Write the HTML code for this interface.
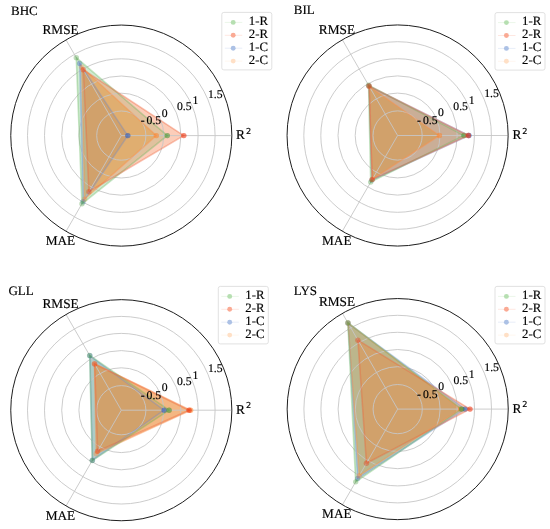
<!DOCTYPE html>
<html><head><meta charset="utf-8"><title>Radar charts</title>
<style>
html,body{margin:0;padding:0;background:#fff;}
svg{display:block;}
text{font-family:"Liberation Serif", "Times New Roman", serif;fill:#000;text-rendering:geometricPrecision;stroke:#000;stroke-width:0.17px;}
.sup{font-family:"DejaVu Sans","Liberation Sans",sans-serif;}
</style></head><body>
<svg width="550" height="529" viewBox="0 0 550 529">
<rect width="550" height="529" fill="#fff"/>
<g>
<polygon points="167.30,135.60 76.30,57.66 81.95,203.76" fill="rgba(137,205,142,0.40)" stroke="none"/>
<polygon points="127.80,135.60 79.65,63.46 83.10,201.76" fill="rgba(91,132,173,0.30)" stroke="none"/>
<polygon points="183.80,135.60 83.30,69.78 88.90,191.72" fill="rgba(247,130,80,0.40)" stroke="none"/>
<polygon points="156.30,135.60 81.80,67.18 84.60,199.17" fill="rgba(224,133,5,0.30)" stroke="none"/>
<g fill="none" stroke="#c6c6c6" stroke-width="0.9">
<circle cx="121.30" cy="135.60" r="24.60"/>
<circle cx="121.30" cy="135.60" r="42.40"/>
<circle cx="121.30" cy="135.60" r="59.60"/>
<circle cx="121.30" cy="135.60" r="76.80"/>
<circle cx="121.30" cy="135.60" r="93.80"/>
<line x1="121.30" y1="135.60" x2="231.85" y2="135.60"/>
<line x1="121.30" y1="135.60" x2="66.03" y2="39.86"/>
<line x1="121.30" y1="135.60" x2="66.02" y2="231.34"/>
</g>
<polygon points="127.80,135.60 79.65,63.46 83.10,201.76" fill="none" stroke="rgba(100,135,210,0.34)" stroke-width="1.6" stroke-linejoin="round"/>
<circle cx="127.80" cy="135.60" r="2.7" fill="rgba(40,90,190,0.35)"/>
<circle cx="79.65" cy="63.46" r="2.7" fill="rgba(40,90,190,0.35)"/>
<circle cx="83.10" cy="201.76" r="2.7" fill="rgba(40,90,190,0.35)"/>
<circle cx="127.80" cy="135.60" r="2.7" fill="rgba(40,90,190,0.35)"/>
<polygon points="156.30,135.60 81.80,67.18 84.60,199.17" fill="none" stroke="rgba(250,145,75,0.45)" stroke-width="1.5" stroke-linejoin="round"/>
<circle cx="156.30" cy="135.60" r="2.7" fill="rgba(255,130,40,0.32)"/>
<circle cx="81.80" cy="67.18" r="2.7" fill="rgba(255,130,40,0.32)"/>
<circle cx="84.60" cy="199.17" r="2.7" fill="rgba(255,130,40,0.32)"/>
<circle cx="156.30" cy="135.60" r="2.7" fill="rgba(255,130,40,0.32)"/>
<polygon points="167.30,135.60 76.30,57.66 81.95,203.76" fill="none" stroke="rgba(97,180,88,0.35)" stroke-width="1.6" stroke-linejoin="round"/>
<circle cx="167.30" cy="135.60" r="2.7" fill="rgba(60,150,50,0.33)"/>
<circle cx="76.30" cy="57.66" r="2.7" fill="rgba(60,150,50,0.33)"/>
<circle cx="81.95" cy="203.76" r="2.7" fill="rgba(60,150,50,0.33)"/>
<circle cx="167.30" cy="135.60" r="2.7" fill="rgba(60,150,50,0.33)"/>
<polygon points="183.80,135.60 83.30,69.78 88.90,191.72" fill="none" stroke="rgba(238,95,55,0.37)" stroke-width="1.6" stroke-linejoin="round"/>
<circle cx="183.80" cy="135.60" r="2.7" fill="rgba(238,45,5,0.34)"/>
<circle cx="83.30" cy="69.78" r="2.7" fill="rgba(238,45,5,0.34)"/>
<circle cx="88.90" cy="191.72" r="2.7" fill="rgba(238,45,5,0.34)"/>
<circle cx="183.80" cy="135.60" r="2.7" fill="rgba(238,45,5,0.34)"/>
<circle cx="121.30" cy="135.60" r="110.55" fill="none" stroke="#1e1e1e" stroke-width="1.0"/>
<text x="140.70" y="124.40" font-size="11.7">-<tspan dx="2.0">0.5</tspan></text>
<text x="161.80" y="116.50" font-size="11.7">0</text>
<text x="177.00" y="110.40" font-size="11.7">0.5</text>
<text x="192.40" y="104.00" font-size="11.7">1</text>
<text x="207.90" y="97.50" font-size="11.7">1.5</text>
<text x="42.50" y="33.60" font-size="13.3">RMSE</text>
<text x="45.70" y="244.70" font-size="13.3">MAE</text>
<text x="236.10" y="139.00" font-size="13.3">R<tspan class="sup" font-size="8.2" dx="0.9" dy="-5.3">2</tspan></text>
<text x="11.00" y="15.30" font-size="13">BHC</text>
<rect x="221.80" y="12.40" width="50" height="57.5" rx="2" ry="2" fill="#fff" fill-opacity="0.8" stroke="#d9d9d9" stroke-width="0.8"/>
<line x1="224.80" y1="22.40" x2="242.30" y2="22.40" stroke="rgb(182,223,177)" stroke-opacity="0.40" stroke-width="0.7"/>
<circle cx="233.20" cy="22.40" r="2.45" fill="rgb(182,223,177)"/>
<text x="248.80" y="25.10" font-size="12.8">1-R</text>
<line x1="224.80" y1="35.30" x2="242.30" y2="35.30" stroke="rgb(250,170,148)" stroke-opacity="0.40" stroke-width="0.7"/>
<circle cx="233.20" cy="35.30" r="2.45" fill="rgb(250,170,148)"/>
<text x="248.80" y="38.00" font-size="12.8">2-R</text>
<line x1="224.80" y1="48.20" x2="242.30" y2="48.20" stroke="rgb(172,193,229)" stroke-opacity="0.40" stroke-width="0.7"/>
<circle cx="233.20" cy="48.20" r="2.45" fill="rgb(172,193,229)"/>
<text x="248.80" y="50.90" font-size="12.8">1-C</text>
<line x1="224.80" y1="61.10" x2="242.30" y2="61.10" stroke="rgb(255,224,198)" stroke-opacity="0.40" stroke-width="0.7"/>
<circle cx="233.20" cy="61.10" r="2.45" fill="rgb(255,224,198)"/>
<text x="248.80" y="63.80" font-size="12.8">2-C</text>
</g>
<g>
<polygon points="464.00,135.50 368.60,85.27 370.70,182.09" fill="rgba(137,205,142,0.40)" stroke="none"/>
<polygon points="468.90,135.50 369.10,86.14 371.85,180.10" fill="rgba(91,132,173,0.30)" stroke="none"/>
<polygon points="468.30,135.50 369.00,85.96 372.15,179.58" fill="rgba(247,130,80,0.40)" stroke="none"/>
<polygon points="439.40,135.50 369.35,86.57 372.35,179.23" fill="rgba(224,133,5,0.30)" stroke="none"/>
<g fill="none" stroke="#c6c6c6" stroke-width="0.9">
<circle cx="397.60" cy="135.50" r="24.60"/>
<circle cx="397.60" cy="135.50" r="42.40"/>
<circle cx="397.60" cy="135.50" r="59.60"/>
<circle cx="397.60" cy="135.50" r="76.80"/>
<circle cx="397.60" cy="135.50" r="93.80"/>
<line x1="397.60" y1="135.50" x2="508.15" y2="135.50"/>
<line x1="397.60" y1="135.50" x2="342.33" y2="39.76"/>
<line x1="397.60" y1="135.50" x2="342.32" y2="231.24"/>
</g>
<polygon points="468.90,135.50 369.10,86.14 371.85,180.10" fill="none" stroke="rgba(100,135,210,0.34)" stroke-width="1.6" stroke-linejoin="round"/>
<circle cx="468.90" cy="135.50" r="2.7" fill="rgba(40,90,190,0.35)"/>
<circle cx="369.10" cy="86.14" r="2.7" fill="rgba(40,90,190,0.35)"/>
<circle cx="371.85" cy="180.10" r="2.7" fill="rgba(40,90,190,0.35)"/>
<circle cx="468.90" cy="135.50" r="2.7" fill="rgba(40,90,190,0.35)"/>
<polygon points="439.40,135.50 369.35,86.57 372.35,179.23" fill="none" stroke="rgba(250,145,75,0.45)" stroke-width="1.5" stroke-linejoin="round"/>
<circle cx="439.40" cy="135.50" r="2.7" fill="rgba(255,130,40,0.32)"/>
<circle cx="369.35" cy="86.57" r="2.7" fill="rgba(255,130,40,0.32)"/>
<circle cx="372.35" cy="179.23" r="2.7" fill="rgba(255,130,40,0.32)"/>
<circle cx="439.40" cy="135.50" r="2.7" fill="rgba(255,130,40,0.32)"/>
<polygon points="464.00,135.50 368.60,85.27 370.70,182.09" fill="none" stroke="rgba(97,180,88,0.35)" stroke-width="1.6" stroke-linejoin="round"/>
<circle cx="464.00" cy="135.50" r="2.7" fill="rgba(60,150,50,0.33)"/>
<circle cx="368.60" cy="85.27" r="2.7" fill="rgba(60,150,50,0.33)"/>
<circle cx="370.70" cy="182.09" r="2.7" fill="rgba(60,150,50,0.33)"/>
<circle cx="464.00" cy="135.50" r="2.7" fill="rgba(60,150,50,0.33)"/>
<polygon points="468.30,135.50 369.00,85.96 372.15,179.58" fill="none" stroke="rgba(238,95,55,0.37)" stroke-width="1.6" stroke-linejoin="round"/>
<circle cx="468.30" cy="135.50" r="2.7" fill="rgba(238,45,5,0.34)"/>
<circle cx="369.00" cy="85.96" r="2.7" fill="rgba(238,45,5,0.34)"/>
<circle cx="372.15" cy="179.58" r="2.7" fill="rgba(238,45,5,0.34)"/>
<circle cx="468.30" cy="135.50" r="2.7" fill="rgba(238,45,5,0.34)"/>
<circle cx="397.60" cy="135.50" r="110.55" fill="none" stroke="#1e1e1e" stroke-width="1.0"/>
<text x="417.00" y="124.30" font-size="11.7">-<tspan dx="2.0">0.5</tspan></text>
<text x="438.10" y="116.40" font-size="11.7">0</text>
<text x="453.30" y="110.30" font-size="11.7">0.5</text>
<text x="468.70" y="103.90" font-size="11.7">1</text>
<text x="484.20" y="97.40" font-size="11.7">1.5</text>
<text x="318.80" y="33.50" font-size="13.3">RMSE</text>
<text x="322.00" y="244.60" font-size="13.3">MAE</text>
<text x="512.40" y="138.90" font-size="13.3">R<tspan class="sup" font-size="8.2" dx="0.9" dy="-5.3">2</tspan></text>
<text x="293.80" y="14.10" font-size="13">BIL</text>
<rect x="495.00" y="12.60" width="50" height="57.5" rx="2" ry="2" fill="#fff" fill-opacity="0.8" stroke="#d9d9d9" stroke-width="0.8"/>
<line x1="498.00" y1="22.60" x2="515.50" y2="22.60" stroke="rgb(182,223,177)" stroke-opacity="0.40" stroke-width="0.7"/>
<circle cx="506.40" cy="22.60" r="2.45" fill="rgb(182,223,177)"/>
<text x="522.00" y="25.30" font-size="12.8">1-R</text>
<line x1="498.00" y1="35.50" x2="515.50" y2="35.50" stroke="rgb(250,170,148)" stroke-opacity="0.40" stroke-width="0.7"/>
<circle cx="506.40" cy="35.50" r="2.45" fill="rgb(250,170,148)"/>
<text x="522.00" y="38.20" font-size="12.8">2-R</text>
<line x1="498.00" y1="48.40" x2="515.50" y2="48.40" stroke="rgb(172,193,229)" stroke-opacity="0.40" stroke-width="0.7"/>
<circle cx="506.40" cy="48.40" r="2.45" fill="rgb(172,193,229)"/>
<text x="522.00" y="51.10" font-size="12.8">1-C</text>
<line x1="498.00" y1="61.30" x2="515.50" y2="61.30" stroke="rgb(255,224,198)" stroke-opacity="0.40" stroke-width="0.7"/>
<circle cx="506.40" cy="61.30" r="2.45" fill="rgb(255,224,198)"/>
<text x="522.00" y="64.00" font-size="12.8">2-C</text>
</g>
<g>
<polygon points="169.10,410.20 89.65,355.38 92.20,460.60" fill="rgba(137,205,142,0.40)" stroke="none"/>
<polygon points="164.20,410.20 89.90,355.81 92.40,460.26" fill="rgba(91,132,173,0.30)" stroke="none"/>
<polygon points="189.10,410.20 94.60,363.95 97.60,451.25" fill="rgba(247,130,80,0.40)" stroke="none"/>
<polygon points="190.60,410.20 94.40,363.61 96.20,453.67" fill="rgba(224,133,5,0.30)" stroke="none"/>
<g fill="none" stroke="#c6c6c6" stroke-width="0.9">
<circle cx="121.30" cy="410.20" r="24.60"/>
<circle cx="121.30" cy="410.20" r="42.40"/>
<circle cx="121.30" cy="410.20" r="59.60"/>
<circle cx="121.30" cy="410.20" r="76.80"/>
<circle cx="121.30" cy="410.20" r="93.80"/>
<line x1="121.30" y1="410.20" x2="231.85" y2="410.20"/>
<line x1="121.30" y1="410.20" x2="66.03" y2="314.46"/>
<line x1="121.30" y1="410.20" x2="66.02" y2="505.94"/>
</g>
<polygon points="164.20,410.20 89.90,355.81 92.40,460.26" fill="none" stroke="rgba(100,135,210,0.34)" stroke-width="1.6" stroke-linejoin="round"/>
<circle cx="164.20" cy="410.20" r="2.7" fill="rgba(40,90,190,0.35)"/>
<circle cx="89.90" cy="355.81" r="2.7" fill="rgba(40,90,190,0.35)"/>
<circle cx="92.40" cy="460.26" r="2.7" fill="rgba(40,90,190,0.35)"/>
<circle cx="164.20" cy="410.20" r="2.7" fill="rgba(40,90,190,0.35)"/>
<polygon points="190.60,410.20 94.40,363.61 96.20,453.67" fill="none" stroke="rgba(250,145,75,0.45)" stroke-width="1.5" stroke-linejoin="round"/>
<circle cx="190.60" cy="410.20" r="2.7" fill="rgba(255,130,40,0.32)"/>
<circle cx="94.40" cy="363.61" r="2.7" fill="rgba(255,130,40,0.32)"/>
<circle cx="96.20" cy="453.67" r="2.7" fill="rgba(255,130,40,0.32)"/>
<circle cx="190.60" cy="410.20" r="2.7" fill="rgba(255,130,40,0.32)"/>
<polygon points="169.10,410.20 89.65,355.38 92.20,460.60" fill="none" stroke="rgba(97,180,88,0.35)" stroke-width="1.6" stroke-linejoin="round"/>
<circle cx="169.10" cy="410.20" r="2.7" fill="rgba(60,150,50,0.33)"/>
<circle cx="89.65" cy="355.38" r="2.7" fill="rgba(60,150,50,0.33)"/>
<circle cx="92.20" cy="460.60" r="2.7" fill="rgba(60,150,50,0.33)"/>
<circle cx="169.10" cy="410.20" r="2.7" fill="rgba(60,150,50,0.33)"/>
<polygon points="189.10,410.20 94.60,363.95 97.60,451.25" fill="none" stroke="rgba(238,95,55,0.37)" stroke-width="1.6" stroke-linejoin="round"/>
<circle cx="189.10" cy="410.20" r="2.7" fill="rgba(238,45,5,0.34)"/>
<circle cx="94.60" cy="363.95" r="2.7" fill="rgba(238,45,5,0.34)"/>
<circle cx="97.60" cy="451.25" r="2.7" fill="rgba(238,45,5,0.34)"/>
<circle cx="189.10" cy="410.20" r="2.7" fill="rgba(238,45,5,0.34)"/>
<circle cx="121.30" cy="410.20" r="110.55" fill="none" stroke="#1e1e1e" stroke-width="1.0"/>
<text x="140.70" y="399.00" font-size="11.7">-<tspan dx="2.0">0.5</tspan></text>
<text x="161.80" y="391.10" font-size="11.7">0</text>
<text x="177.00" y="385.00" font-size="11.7">0.5</text>
<text x="192.40" y="378.60" font-size="11.7">1</text>
<text x="207.90" y="372.10" font-size="11.7">1.5</text>
<text x="42.50" y="307.80" font-size="13.3">RMSE</text>
<text x="45.70" y="519.80" font-size="13.3">MAE</text>
<text x="236.10" y="413.60" font-size="13.3">R<tspan class="sup" font-size="8.2" dx="0.9" dy="-5.3">2</tspan></text>
<text x="8.40" y="294.70" font-size="13">GLL</text>
<rect x="218.30" y="286.40" width="50" height="57.5" rx="2" ry="2" fill="#fff" fill-opacity="0.8" stroke="#d9d9d9" stroke-width="0.8"/>
<line x1="221.30" y1="296.40" x2="238.80" y2="296.40" stroke="rgb(182,223,177)" stroke-opacity="0.40" stroke-width="0.7"/>
<circle cx="229.70" cy="296.40" r="2.45" fill="rgb(182,223,177)"/>
<text x="245.30" y="299.10" font-size="12.8">1-R</text>
<line x1="221.30" y1="309.30" x2="238.80" y2="309.30" stroke="rgb(250,170,148)" stroke-opacity="0.40" stroke-width="0.7"/>
<circle cx="229.70" cy="309.30" r="2.45" fill="rgb(250,170,148)"/>
<text x="245.30" y="312.00" font-size="12.8">2-R</text>
<line x1="221.30" y1="322.20" x2="238.80" y2="322.20" stroke="rgb(172,193,229)" stroke-opacity="0.40" stroke-width="0.7"/>
<circle cx="229.70" cy="322.20" r="2.45" fill="rgb(172,193,229)"/>
<text x="245.30" y="324.90" font-size="12.8">1-C</text>
<line x1="221.30" y1="335.10" x2="238.80" y2="335.10" stroke="rgb(255,224,198)" stroke-opacity="0.40" stroke-width="0.7"/>
<circle cx="229.70" cy="335.10" r="2.45" fill="rgb(255,224,198)"/>
<text x="245.30" y="337.80" font-size="12.8">2-C</text>
</g>
<g>
<polygon points="461.70,409.10 347.85,322.76 355.70,481.85" fill="rgba(137,205,142,0.40)" stroke="none"/>
<polygon points="465.10,409.10 348.10,323.19 357.65,478.47" fill="rgba(91,132,173,0.30)" stroke="none"/>
<polygon points="470.00,409.10 357.90,340.16 366.45,463.23" fill="rgba(247,130,80,0.40)" stroke="none"/>
<polygon points="460.50,409.10 348.00,323.02 359.25,475.70" fill="rgba(224,133,5,0.30)" stroke="none"/>
<g fill="none" stroke="#c6c6c6" stroke-width="0.9">
<circle cx="397.70" cy="409.10" r="24.60"/>
<circle cx="397.70" cy="409.10" r="42.40"/>
<circle cx="397.70" cy="409.10" r="59.60"/>
<circle cx="397.70" cy="409.10" r="76.80"/>
<circle cx="397.70" cy="409.10" r="93.80"/>
<line x1="397.70" y1="409.10" x2="508.25" y2="409.10"/>
<line x1="397.70" y1="409.10" x2="342.43" y2="313.36"/>
<line x1="397.70" y1="409.10" x2="342.42" y2="504.84"/>
</g>
<polygon points="465.10,409.10 348.10,323.19 357.65,478.47" fill="none" stroke="rgba(100,135,210,0.34)" stroke-width="1.6" stroke-linejoin="round"/>
<circle cx="465.10" cy="409.10" r="2.7" fill="rgba(40,90,190,0.35)"/>
<circle cx="348.10" cy="323.19" r="2.7" fill="rgba(40,90,190,0.35)"/>
<circle cx="357.65" cy="478.47" r="2.7" fill="rgba(40,90,190,0.35)"/>
<circle cx="465.10" cy="409.10" r="2.7" fill="rgba(40,90,190,0.35)"/>
<polygon points="460.50,409.10 348.00,323.02 359.25,475.70" fill="none" stroke="rgba(250,145,75,0.45)" stroke-width="1.5" stroke-linejoin="round"/>
<circle cx="460.50" cy="409.10" r="2.7" fill="rgba(255,130,40,0.32)"/>
<circle cx="348.00" cy="323.02" r="2.7" fill="rgba(255,130,40,0.32)"/>
<circle cx="359.25" cy="475.70" r="2.7" fill="rgba(255,130,40,0.32)"/>
<circle cx="460.50" cy="409.10" r="2.7" fill="rgba(255,130,40,0.32)"/>
<polygon points="461.70,409.10 347.85,322.76 355.70,481.85" fill="none" stroke="rgba(97,180,88,0.35)" stroke-width="1.6" stroke-linejoin="round"/>
<circle cx="461.70" cy="409.10" r="2.7" fill="rgba(60,150,50,0.33)"/>
<circle cx="347.85" cy="322.76" r="2.7" fill="rgba(60,150,50,0.33)"/>
<circle cx="355.70" cy="481.85" r="2.7" fill="rgba(60,150,50,0.33)"/>
<circle cx="461.70" cy="409.10" r="2.7" fill="rgba(60,150,50,0.33)"/>
<polygon points="470.00,409.10 357.90,340.16 366.45,463.23" fill="none" stroke="rgba(238,95,55,0.37)" stroke-width="1.6" stroke-linejoin="round"/>
<circle cx="470.00" cy="409.10" r="2.7" fill="rgba(238,45,5,0.34)"/>
<circle cx="357.90" cy="340.16" r="2.7" fill="rgba(238,45,5,0.34)"/>
<circle cx="366.45" cy="463.23" r="2.7" fill="rgba(238,45,5,0.34)"/>
<circle cx="470.00" cy="409.10" r="2.7" fill="rgba(238,45,5,0.34)"/>
<circle cx="397.70" cy="409.10" r="110.55" fill="none" stroke="#1e1e1e" stroke-width="1.0"/>
<text x="417.10" y="397.90" font-size="11.7">-<tspan dx="2.0">0.5</tspan></text>
<text x="438.20" y="390.00" font-size="11.7">0</text>
<text x="453.40" y="383.90" font-size="11.7">0.5</text>
<text x="468.80" y="377.50" font-size="11.7">1</text>
<text x="484.30" y="371.00" font-size="11.7">1.5</text>
<text x="318.90" y="306.20" font-size="13.3">RMSE</text>
<text x="322.10" y="518.20" font-size="13.3">MAE</text>
<text x="512.50" y="412.50" font-size="13.3">R<tspan class="sup" font-size="8.2" dx="0.9" dy="-5.3">2</tspan></text>
<text x="293.80" y="294.70" font-size="13">LYS</text>
<rect x="495.00" y="286.40" width="50" height="57.5" rx="2" ry="2" fill="#fff" fill-opacity="0.8" stroke="#d9d9d9" stroke-width="0.8"/>
<line x1="498.00" y1="296.40" x2="515.50" y2="296.40" stroke="rgb(182,223,177)" stroke-opacity="0.40" stroke-width="0.7"/>
<circle cx="506.40" cy="296.40" r="2.45" fill="rgb(182,223,177)"/>
<text x="522.00" y="299.10" font-size="12.8">1-R</text>
<line x1="498.00" y1="309.30" x2="515.50" y2="309.30" stroke="rgb(250,170,148)" stroke-opacity="0.40" stroke-width="0.7"/>
<circle cx="506.40" cy="309.30" r="2.45" fill="rgb(250,170,148)"/>
<text x="522.00" y="312.00" font-size="12.8">2-R</text>
<line x1="498.00" y1="322.20" x2="515.50" y2="322.20" stroke="rgb(172,193,229)" stroke-opacity="0.40" stroke-width="0.7"/>
<circle cx="506.40" cy="322.20" r="2.45" fill="rgb(172,193,229)"/>
<text x="522.00" y="324.90" font-size="12.8">1-C</text>
<line x1="498.00" y1="335.10" x2="515.50" y2="335.10" stroke="rgb(255,224,198)" stroke-opacity="0.40" stroke-width="0.7"/>
<circle cx="506.40" cy="335.10" r="2.45" fill="rgb(255,224,198)"/>
<text x="522.00" y="337.80" font-size="12.8">2-C</text>
</g>
</svg>
</body></html>
